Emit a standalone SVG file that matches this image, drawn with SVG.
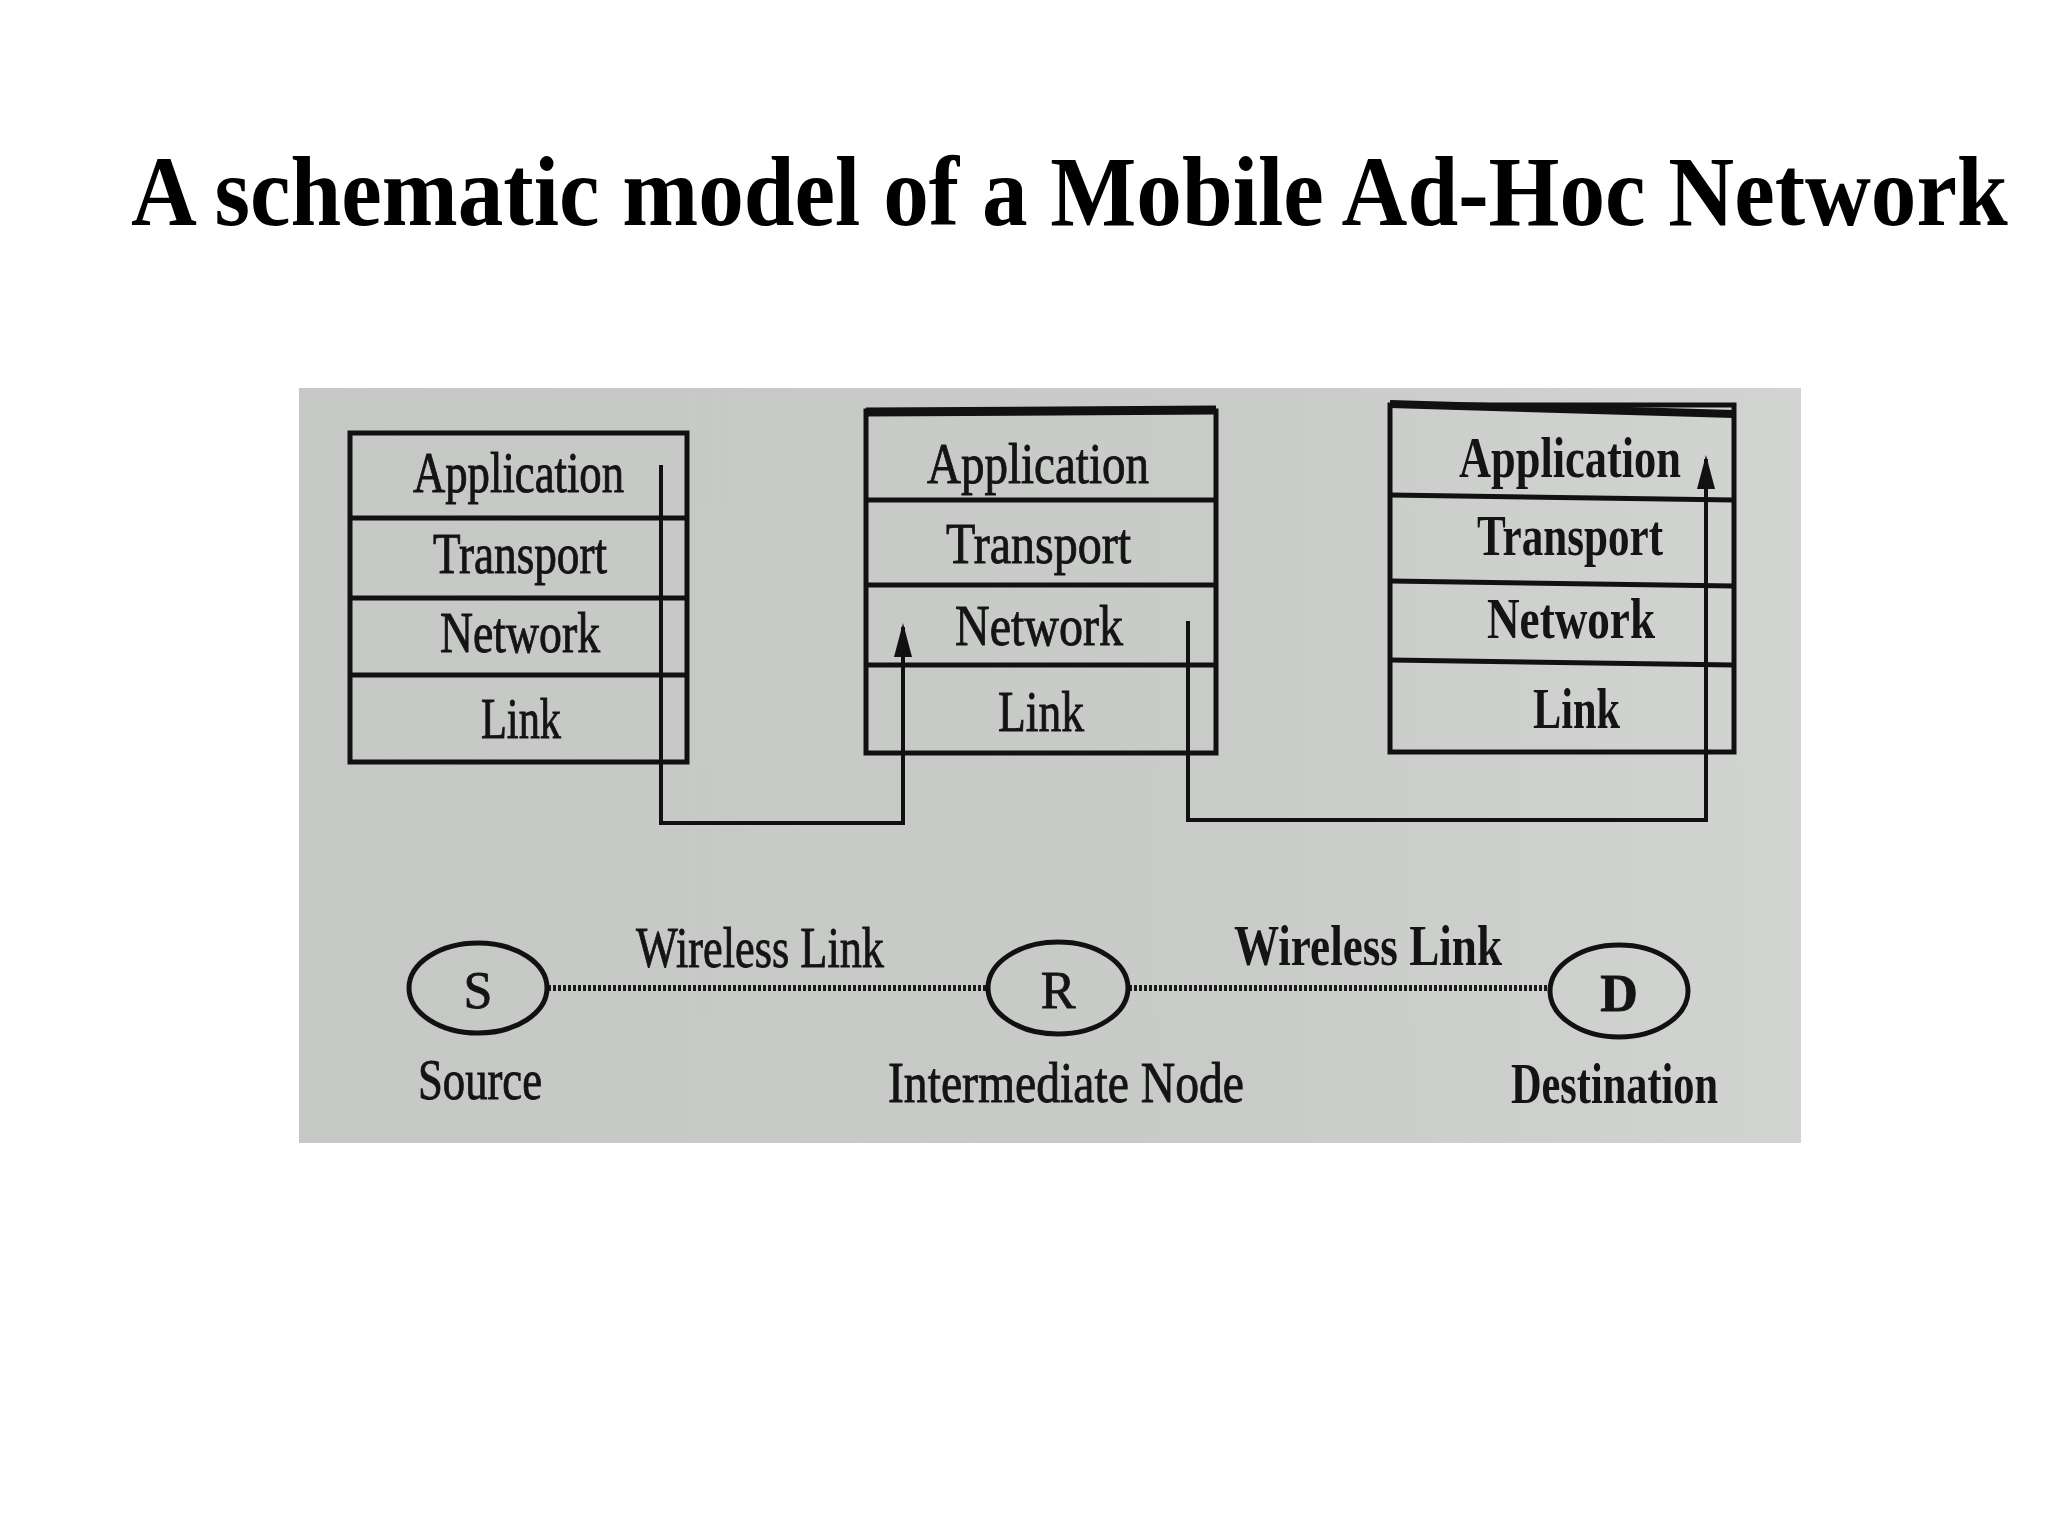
<svg xmlns="http://www.w3.org/2000/svg" width="2048" height="1536" viewBox="0 0 2048 1536">
<defs>
<linearGradient id="panelGrad" x1="0" y1="0" x2="1" y2="0">
<stop offset="0" stop-color="#c6c8c6"/>
<stop offset="0.6" stop-color="#c9cbc9"/>
<stop offset="1" stop-color="#d2d4d2"/>
</linearGradient>
<marker id="arrow" markerUnits="userSpaceOnUse" markerWidth="34" markerHeight="18" viewBox="0 0 34 18" refX="30" refY="9" orient="auto">
<path d="M0,0 L34,9 L0,18 z" fill="#111"/>
</marker>
</defs>
<style>
.title{font-family:"Liberation Serif","Times New Roman",serif;font-weight:bold;font-size:100px;fill:#000}
.frame{fill:none;stroke:#111;stroke-width:5}
.div{stroke:#111;stroke-width:5}
.lbl{font-family:"Liberation Serif","Times New Roman",serif;font-size:56px;fill:#141414;stroke:#141414;stroke-width:0.9}
.lblb{font-family:"Liberation Serif","Times New Roman",serif;font-weight:bold;font-size:56px;fill:#141414}
.path{fill:none;stroke:#111;stroke-width:4}
.wl{stroke:#1a1a1a;stroke-width:6;stroke-dasharray:3 2;fill:none}
.node{fill:none;stroke:#111;stroke-width:5}
.letter{font-family:"Liberation Serif","Times New Roman",serif;font-size:52px;fill:#141414;stroke:#141414;stroke-width:0.8;text-anchor:middle}
.cap{font-family:"Liberation Serif","Times New Roman",serif;font-size:57px;fill:#141414;stroke:#141414;stroke-width:0.9}
.capb{font-family:"Liberation Serif","Times New Roman",serif;font-weight:bold;font-size:57px;fill:#141414}
</style>
<rect x="0" y="0" width="2048" height="1536" fill="#ffffff"/>
<text class="title" transform="translate(131,225) scale(0.912,1)" x="0" y="0">A schematic model of a Mobile Ad-Hoc Network</text>
<rect x="299" y="388" width="1502" height="755" fill="url(#panelGrad)"/>

<g id="stack-source">
<rect class="frame" x="350" y="433" width="337" height="329"/>
<line class="div" x1="350" y1="518" x2="687" y2="518"/>
<line class="div" x1="350" y1="598" x2="687" y2="598"/>
<line class="div" x1="350" y1="675" x2="687" y2="675"/>
<text class="lbl" x="413" y="492" textLength="211" lengthAdjust="spacingAndGlyphs">Application</text>
<text class="lbl" x="433" y="573" textLength="174" lengthAdjust="spacingAndGlyphs">Transport</text>
<text class="lbl" x="440" y="652" textLength="160" lengthAdjust="spacingAndGlyphs">Network</text>
<text class="lbl" x="481" y="738" textLength="80" lengthAdjust="spacingAndGlyphs">Link</text>
</g>

<g id="stack-intermediate">
<rect class="frame" x="866" y="411" width="350" height="342"/>
<line stroke="#111" stroke-width="9" x1="866" y1="412" x2="1216" y2="410"/>
<line class="div" x1="866" y1="500" x2="1216" y2="500"/>
<line class="div" x1="866" y1="585" x2="1216" y2="585"/>
<line class="div" x1="866" y1="665" x2="1216" y2="665"/>
<text class="lbl" x="927" y="483" textLength="222" lengthAdjust="spacingAndGlyphs">Application</text>
<text class="lbl" x="946" y="563" textLength="185" lengthAdjust="spacingAndGlyphs">Transport</text>
<text class="lbl" x="955" y="645" textLength="168" lengthAdjust="spacingAndGlyphs">Network</text>
<text class="lbl" x="998" y="731" textLength="86" lengthAdjust="spacingAndGlyphs">Link</text>
</g>

<g id="stack-destination">
<rect class="frame" x="1390" y="405" width="344" height="347"/>
<line stroke="#111" stroke-width="8" x1="1390" y1="404" x2="1734" y2="414"/>
<line class="div" x1="1390" y1="495" x2="1734" y2="500"/>
<line class="div" x1="1390" y1="581" x2="1734" y2="586"/>
<line class="div" x1="1390" y1="660" x2="1734" y2="665"/>
<text class="lblb" x="1459" y="477" textLength="222" lengthAdjust="spacingAndGlyphs">Application</text>
<text class="lblb" x="1477" y="555" textLength="186" lengthAdjust="spacingAndGlyphs">Transport</text>
<text class="lblb" x="1487" y="638" textLength="168" lengthAdjust="spacingAndGlyphs">Network</text>
<text class="lblb" x="1533" y="728" textLength="87" lengthAdjust="spacingAndGlyphs">Link</text>
</g>

<g id="connectors">
<path class="path" d="M661,465 V823 H903 V627" marker-end="url(#arrow)"/>
<path class="path" d="M1188,621 V820 H1706 V459" marker-end="url(#arrow)"/>
<line class="wl" x1="548" y1="988" x2="988" y2="988"/>
<line class="wl" x1="1129" y1="988" x2="1551" y2="988"/>
<text class="cap" x="636" y="967" textLength="248" lengthAdjust="spacingAndGlyphs">Wireless Link</text>
<text class="capb" x="1234" y="965" textLength="268" lengthAdjust="spacingAndGlyphs">Wireless Link</text>
</g>

<g id="node-S">
<ellipse class="node" cx="478" cy="988" rx="69" ry="45"/>
<text class="letter" x="478" y="1008">S</text>
<text class="cap" x="418" y="1099" textLength="124" lengthAdjust="spacingAndGlyphs">Source</text>
</g>

<g id="node-R">
<ellipse class="node" cx="1058" cy="988" rx="70" ry="46"/>
<text class="letter" x="1058" y="1008">R</text>
<text class="cap" x="888" y="1102" textLength="356" lengthAdjust="spacingAndGlyphs">Intermediate Node</text>
</g>

<g id="node-D">
<ellipse class="node" cx="1619" cy="991" rx="69" ry="46"/>
<text class="letter" x="1619" y="1011" font-weight="bold">D</text>
<text class="capb" x="1511" y="1103" textLength="207" lengthAdjust="spacingAndGlyphs">Destination</text>
</g>
</svg>
